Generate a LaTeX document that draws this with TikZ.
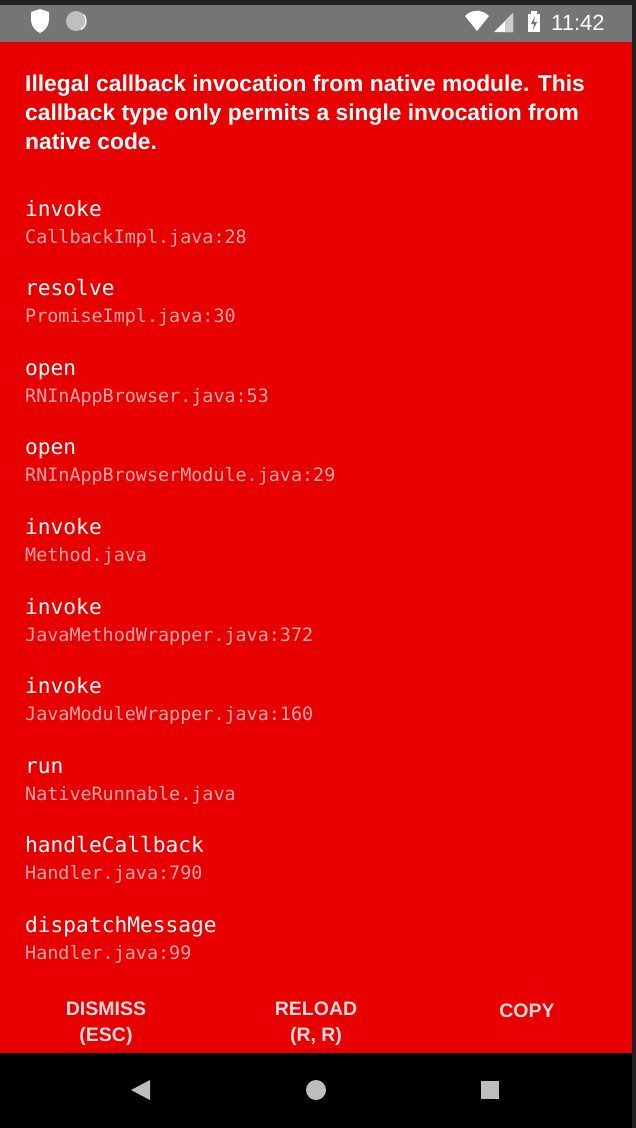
\documentclass[tikz,border=0pt]{standalone}
\usepackage{fontspec}
\setmainfont{Liberation Sans}
\newfontfamily\monof{DejaVu Sans Mono}
\definecolor{rbred}{HTML}{E80000}
\definecolor{sbgray}{HTML}{757575}
\definecolor{frame}{HTML}{222222}
\definecolor{filec}{HTML}{F2A8A8}
\definecolor{btnc}{HTML}{F8DADA}
\definecolor{navc}{HTML}{BDBDBD}
\begin{document}
\begin{tikzpicture}[x=1pt,y=-1pt,
  meth/.style={anchor=base west,inner sep=0pt,text=white,font=\monof\fontsize{21.2}{24}\selectfont},
  fil/.style={anchor=base west,inner sep=0pt,text=filec,font=\monof\fontsize{18.4}{22}\selectfont},
  ttl/.style={anchor=base west,inner sep=0pt,text=white,font=\bfseries\fontsize{22.8}{25}\selectfont},
  btn/.style={align=center,inner sep=0pt,text=btnc,font=\bfseries\fontsize{19.5}{26}\selectfont}]
\useasboundingbox (0,0) rectangle (636,1128);
\fill[frame] (0,0) rectangle (636,1128);
\fill[sbgray] (0,5) rectangle (632,42);
\fill[rbred] (0,42) rectangle (632,1053);
\fill[black] (0,1053) rectangle (632,1128);
% status bar
\fill[white] (31,12) -- (40,9) -- (49,12) -- (49,20) .. controls (49,27) and (44,31) .. (40,33) .. controls (36,31) and (31,27) .. (31,20) -- cycle;
\fill[gray!50!white] (76,21) circle (10);
\draw[white,line width=1.2pt] (76,21) ++(-40:10) arc (-40:60:10);
\fill[white] (465,16) .. controls (472,9) and (482,9) .. (489,16) -- (477,31) -- cycle;
\fill[white] (494,32) -- (513,13) -- (513,32) -- cycle;
\fill[gray!40!white] (505,32) -- (505,21) -- (513,13) -- (513,32) -- cycle;
\fill[white] (528,14) rectangle (540,32);
\fill[white] (531,11) rectangle (537,14);
\fill[sbgray] (535,16) -- (531,24) -- (534,24) -- (533,30) -- (537,22) -- (534,22) -- cycle;
\node[anchor=base west,inner sep=0pt,text=white,font=\fontsize{22}{24}\selectfont] (time) at (551,30) {11:42};
% title
\node[ttl] (t1) at (25,91) {Illegal callback invocation from native module. This};
\node[ttl] (t2) at (25,120) {callback type only permits a single invocation from};
\node[ttl] (t3) at (25,149) {native code.};
% stack
\foreach \m/\f [count=\i from 0] in {invoke/CallbackImpl.java:28,resolve/PromiseImpl.java:30,open/RNInAppBrowser.java:53,open/RNInAppBrowserModule.java:29,invoke/Method.java,invoke/JavaMethodWrapper.java:372,invoke/JavaModuleWrapper.java:160,run/NativeRunnable.java,handleCallback/Handler.java:790,dispatchMessage/Handler.java:99}{
  \node[meth] (m\i) at (25,{216+79.6*\i}) {\m};
  \node[fil] (f\i) at (25,{243+79.6*\i}) {\f};
}
% buttons
\node[btn] (dismiss) at (106,1024) {DISMISS\\(ESC)};
\node[btn] (reload) at (316,1024) {RELOAD\\(R, R)};
\node[btn,anchor=center] (copy) at (527,1011) {COPY};
% nav
\fill[navc] (131,1090) -- (150,1080) -- (150,1100) -- cycle;
\fill[navc] (316,1090) circle (10);
\fill[navc] (481,1081) rectangle (499,1099);
\end{tikzpicture}
\end{document}
